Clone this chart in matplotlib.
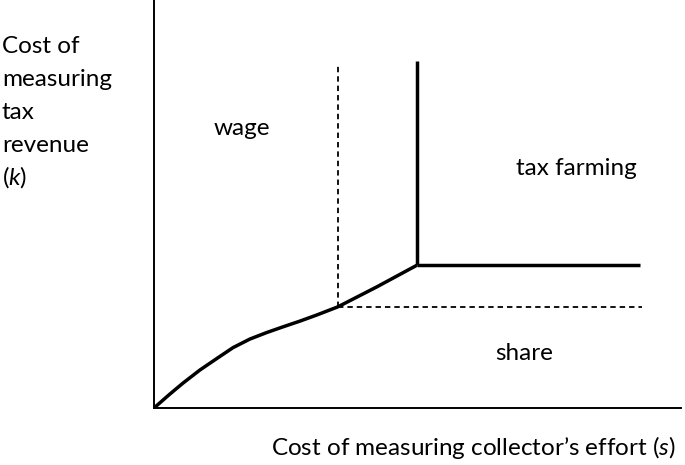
import matplotlib.pyplot as plt

plt.rcParams['font.family'] = ['Lato', 'DejaVu Sans']
plt.rcParams['mathtext.fontset'] = 'custom'
plt.rcParams['mathtext.rm'] = 'Lato'
plt.rcParams['mathtext.it'] = 'Lato:italic'

# boundary between wage/share regions (curve) and on to the tax-farming corner
curve_x = [0, 3.0, 5.5, 8.7, 12.0, 15.0, 18.2, 21.4, 24.5, 27.7, 30.9, 34.9, 42.3, 49.9]
curve_y = [0, 3.4, 6.1, 9.3, 12.2, 14.8, 16.9, 18.5, 19.9, 21.3, 22.8, 24.8, 29.7, 35.0]

# tax farming boundaries
farm_vert_x = [49.9, 49.9]
farm_vert_y = [35.0, 85.0]
farm_horiz_x = [49.9, 92.2]
farm_horiz_y = [35.0, 35.0]

# dashed lines
dash_vert_x = [34.9, 34.9]
dash_vert_y = [24.8, 84.6]
dash_horiz_x = [34.9, 92.6]
dash_horiz_y = [24.8, 24.8]

regions = ['wage', 'tax farming', 'share']
region_x = [16.6, 80.1, 70.2]
region_y = [66.9, 57.1, 11.8]

ylabel_lines = ['Cost of', 'measuring', 'tax', 'revenue', '($k$)']
xlabel = 'Cost of measuring collector\u2019s effort ($s$)'

fig = plt.figure(figsize=(6.85, 4.65), dpi=100)
ax = fig.add_axes([154 / 685, 57 / 465, 527 / 685, 408 / 465])

ax.plot(curve_x, curve_y, color='black', lw=2.5, solid_capstyle='butt',
        solid_joinstyle='round')
ax.plot(farm_vert_x, farm_vert_y, color='black', lw=2.5, solid_capstyle='butt')
ax.plot(farm_horiz_x, farm_horiz_y, color='black', lw=2.5, solid_capstyle='butt')
ax.plot(dash_vert_x, dash_vert_y, color='black', lw=1.3, dashes=(3, 2.2))
ax.plot(dash_horiz_x, dash_horiz_y, color='black', lw=1.3, dashes=(3, 2.2))

for name, x, y in zip(regions, region_x, region_y):
    ax.text(x, y, name, fontsize=17.5, ha='center', va='baseline')

ax.set_xlim(0, 100)
ax.set_ylim(0, 100)
ax.spines['top'].set_visible(False)
ax.spines['right'].set_visible(False)
ax.spines['left'].set_linewidth(1.4)
ax.spines['bottom'].set_linewidth(1.4)
ax.set_xticks([])
ax.set_yticks([])

# y label, one line at a time, left aligned
for i, line in enumerate(ylabel_lines):
    fig.text(2 / 685, 1 - (53 + 33 * i) / 465, line, fontsize=17.5,
             ha='left', va='baseline')

fig.text(473 / 685, 1 - 455 / 465, xlabel, fontsize=17.5,
         ha='center', va='baseline')

fig.savefig('out.png', dpi=100)
